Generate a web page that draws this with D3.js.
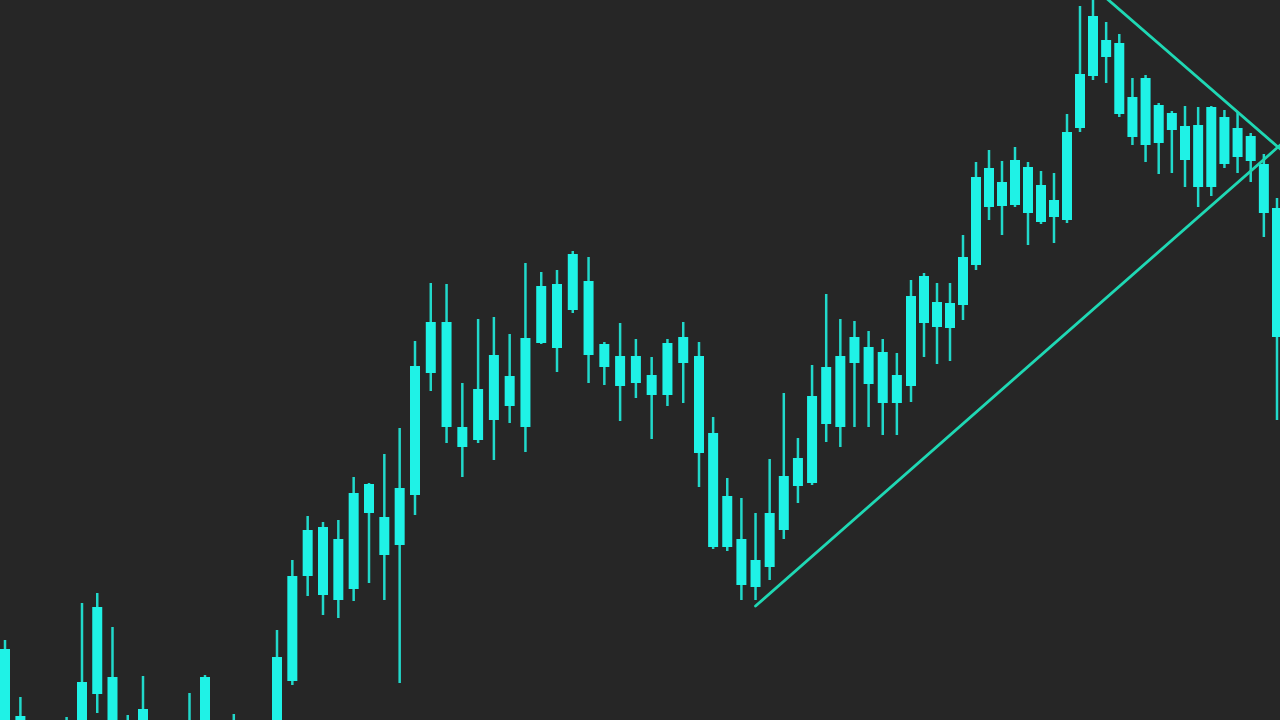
<!DOCTYPE html>
<html><head><meta charset="utf-8">
<script src="https://cdn.jsdelivr.net/npm/d3@7"></script>
<style>html,body{margin:0;padding:0;background:#262626;overflow:hidden}</style>
</head><body><svg id="c" width="1280" height="720"></svg>
<script>
// candle slot (time index) of each visible candle
const slots  = [0,1,4,5,6,7,8,9,12,13,15,18,19,20,21,22,23,24,25,26,27,28,29,30,31,32,33,34,35,36,37,38,39,40,41,42,43,44,45,46,47,48,49,50,51,52,53,54,55,56,57,58,59,60,61,62,63,64,65,66,67,68,69,70,71,72,73,74,75,76,77,78,79,80,81,82,83,84,85,86,87,88];
const highs  = [80,23,3,117,127,93,5,44,27,45,6,90,160,204,198,200,243,237,266,292,379,437,436,337,401,403,386,457,448,450,469,463,378,397,381,363,381,398,378,303,242,222,207,261,327,282,355,426,401,399,389,381,367,440,447,437,437,485,558,570,559,573,558,549,547,606,714,725,698,686,642,645,617,609,614,613,614,610,608,587,566,522];
const closes = [71,4,-20,38,113,43,-10,11,-5,43,-10,63,144,190,193,181,227,236,203,232,354,398,398,293,331,365,344,382,434,436,466,439,376,364,364,345,377,383,364,287,224,181,160,207,244,262,324,353,364,383,373,368,345,424,444,418,417,463,543,552,538,560,553,535,520,588,646,704,680,677,623,642,615,607,594,595,613,603,592,584,556,512];
const opens  = [-40,-50,-60,-40,26,-30,-50,-40,-50,-30,-40,-20,39,144,125,120,131,207,165,175,225,347,293,273,280,300,314,293,377,372,410,365,353,334,337,325,325,357,267,173,173,135,133,153,190,234,237,296,293,357,336,317,317,334,397,393,392,415,455,513,514,515,507,498,503,500,592,644,663,606,583,575,577,590,560,533,533,556,563,559,507,383];
const lows   = [-60,-70,-80,-55,7,-50,-70,-60,-70,-50,-60,-40,35,124,105,102,119,137,120,37,205,329,277,243,277,260,297,268,376,348,407,337,335,299,322,281,314,317,233,171,169,120,120,140,181,217,235,278,273,293,293,285,285,318,363,356,359,400,450,500,485,513,475,496,477,497,588,640,637,603,575,558,546,547,533,513,524,552,547,538,483,300];
// trend lines: [slot, price] endpoints
const supportLine    = [[49,114],[88.25,575]];
const resistanceLine = [[75,722],[88.25,571]];

const W = 1280, H = 720;
const svg = d3.select('#c');
svg.append('rect').attr('width',W).attr('height',H).attr('fill','#262626');

const x = d3.scaleLinear()
  .domain([0,5,9,13,18,27,45,60,74,88])
  .range([5,82,143,205,277,415,699,911,1093,1277]);
const y = d3.scaleLinear().domain([0,720]).range([H,0]);

const candles = slots.map((s,i)=>({s, h:highs[i], l:lows[i], o:opens[i], c:closes[i]}));
const bodyW = 10;

const g = svg.append('g');
g.selectAll('line.wick').data(candles).join('line')
  .attr('class','wick')
  .attr('x1',d=>x(d.s)).attr('x2',d=>x(d.s))
  .attr('y1',d=>y(d.h)).attr('y2',d=>y(d.l))
  .attr('stroke','#21d9cb').attr('stroke-width',2.5);
g.selectAll('rect.body').data(candles).join('rect')
  .attr('class','body')
  .attr('x',d=>x(d.s)-bodyW/2).attr('width',bodyW)
  .attr('y',d=>y(Math.max(d.o,d.c)))
  .attr('height',d=>Math.max(1,Math.abs(y(d.o)-y(d.c))))
  .attr('fill','#1ff2e6');

const line = d3.line().x(d=>x(d[0])).y(d=>y(d[1]));
[supportLine,resistanceLine].forEach(p=>{
  svg.append('path').attr('d',line(p)).attr('fill','none')
    .attr('stroke','#1fd8b4').attr('stroke-width',2.8).attr('stroke-linecap','round');
});
</script></body></html>
